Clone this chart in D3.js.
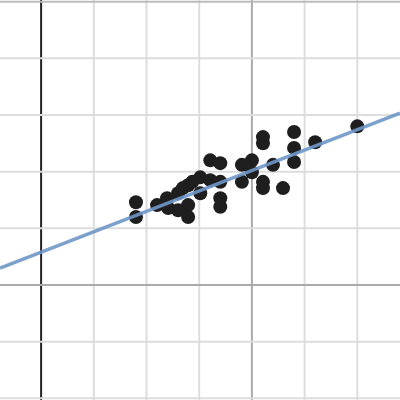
<html>
<head>
<script src="https://d3js.org/d3.v7.min.js"></script>
<style>body{margin:0;background:#fff}</style>
</head>
<body>
<svg id="chart" width="400" height="400"></svg>
<script>
// scatter points
var xs = [1.80,1.80,2.20,2.39,2.41,2.60,2.60,2.79,2.79,2.79,3.02,3.02,3.21,3.21,3.40,3.40,3.40,3.40,3.81,3.81,4.00,4.00,4.21,4.21,4.21,4.21,4.40,4.59,4.80,4.80,4.80,5.20,6.00,2.69,2.87]
var ys = [1.46,1.20,1.41,1.53,1.36,1.62,1.32,1.41,1.20,1.76,1.90,1.62,2.20,1.85,2.15,1.82,1.53,1.38,2.12,1.82,2.20,1.99,2.61,2.50,1.82,1.71,2.12,1.71,2.70,2.42,2.17,2.52,2.80,1.71,1.82]
// fit line
var slope = 0.36
var intercept = 0.58
var gridX = [-1,0,1,2,3,4,5,6,7]
var gridY = [-2,-1,0,1,2,3,4,5]

var svg = d3.select('#chart')
var x = d3.scaleLinear().domain([-0.78, 6.81]).range([0, 400])
var y = d3.scaleLinear().domain([-2.03, 5.03]).range([400, 0])

svg.selectAll('.gx').data(gridX).enter().append('line')
    .attr('x1', d => x(d)).attr('x2', d => x(d)).attr('y1', 0).attr('y2', 400)
    .attr('stroke', d => d == 0 ? '#222' : (d == 4 ? '#aaa' : '#ddd')).attr('stroke-width', 2)
svg.selectAll('.gy').data(gridY).enter().append('line')
    .attr('y1', d => y(d)).attr('y2', d => y(d)).attr('x1', 0).attr('x2', 400)
    .attr('stroke', d => d == 0 ? '#aaa' : (d == 5 ? '#bbb' : '#ddd')).attr('stroke-width', 2)

svg.selectAll('circle').data(xs).enter().append('circle')
    .attr('cx', d => x(d)).attr('cy', (d, i) => y(ys[i])).attr('r', 7)
    .attr('fill', '#1e1e1e')

var ends = x.domain()
svg.append('line')
    .attr('x1', x(ends[0])).attr('y1', y(intercept + slope * ends[0]))
    .attr('x2', x(ends[1])).attr('y2', y(intercept + slope * ends[1]))
    .attr('stroke', '#6e97c8').attr('stroke-width', 3.5).attr('opacity', 0.9)
</script>
</body>
</html>
